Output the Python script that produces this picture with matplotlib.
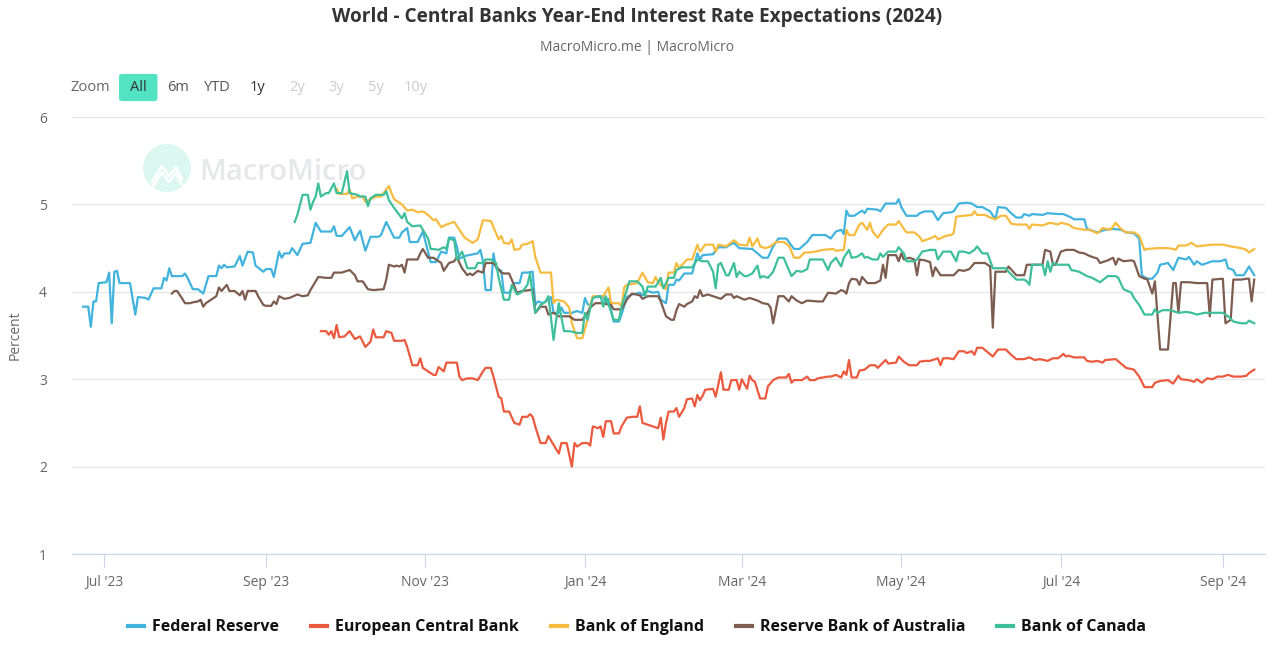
import pandas as pd
import numpy as np
import matplotlib.pyplot as plt
import matplotlib.dates as mdates
from matplotlib.patches import Ellipse, FancyBboxPatch
from matplotlib.lines import Line2D

# x values are days since 2023-07-01, y values in percent
base = pd.Timestamp('2023-07-01')

fed_day = [-8, -6, -5, -4, -3, -2, 1, 2, 3, 4, 5, 6, 9, 10, 12, 13, 16, 17, 19, 22, 23, 24, 25, 26, 30, 31,
           32, 34, 36, 38, 40, 43, 44, 45, 46, 47, 50, 52, 53, 55, 57, 58, 61, 62, 64, 65, 67, 68, 69, 71, 72,
           74, 76, 79, 81, 83, 87, 88, 89, 91, 94, 96, 98, 100, 102, 105, 106, 108, 111, 113, 114, 116, 117,
           120, 122, 125, 127, 129, 131, 132, 134, 135, 136, 138, 143, 144, 145, 146, 148, 149, 150, 152, 153,
           155, 157, 159, 160, 162, 164, 165, 166, 168, 169, 171, 172, 174, 175, 176, 178, 179, 181, 183, 184,
           185, 186, 187, 191, 192, 193, 195, 197, 198, 199, 200, 202, 205, 206, 207, 208, 210, 212, 213, 215,
           216, 218, 219, 220, 222, 225, 227, 228, 229, 233, 235, 238, 239, 241, 243, 248, 252, 254, 256, 258,
           261, 264, 266, 269, 271, 276, 278, 280, 282, 283, 284, 285, 287, 290, 291, 292, 296, 297, 299, 303,
           304, 305, 307, 311, 312, 314, 317, 319, 321, 324, 325, 327, 330, 332, 334, 336, 339, 341, 342, 345,
           347, 349, 351, 352, 354, 355, 359, 361, 365, 367, 370, 371, 375, 376, 380, 383, 386, 389, 391, 394,
           396, 397, 399, 401, 403, 404, 407, 409, 411, 414, 415, 417, 418, 420, 422, 424, 427, 429, 430, 432,
           433, 436, 438, 440]
fed_val = [3.83, 3.83, 3.60, 3.89, 3.89, 4.10, 4.11, 4.22, 3.64, 4.23, 4.24, 4.10, 4.10, 4.10, 3.74, 3.94,
           3.93, 3.91, 4.04, 4.04, 4.16, 4.13, 4.27, 4.18, 4.18, 4.21, 4.16, 4.03, 4.03, 3.98, 4.18, 4.18, 4.30,
           4.27, 4.31, 4.28, 4.29, 4.41, 4.30, 4.46, 4.45, 4.30, 4.23, 4.26, 4.26, 4.17, 4.46, 4.39, 4.44, 4.44,
           4.50, 4.42, 4.55, 4.56, 4.79, 4.69, 4.69, 4.75, 4.64, 4.64, 4.74, 4.59, 4.70, 4.47, 4.63, 4.63, 4.65,
           4.80, 4.62, 4.62, 4.68, 4.73, 4.57, 4.57, 4.69, 4.34, 4.34, 4.46, 4.44, 4.62, 4.62, 4.52, 4.38, 4.41,
           4.44, 4.48, 4.35, 4.02, 4.02, 4.44, 4.27, 4.24, 3.99, 3.99, 4.10, 4.10, 4.22, 4.22, 4.23, 3.85, 3.89,
           3.87, 3.89, 3.94, 3.76, 3.76, 3.82, 3.76, 3.76, 3.76, 3.78, 3.76, 3.93, 3.86, 3.84, 3.94, 3.94, 3.88,
           3.92, 3.66, 3.66, 3.74, 3.84, 3.94, 3.97, 3.99, 3.96, 3.99, 4.01, 3.99, 4.00, 3.91, 3.87, 4.08, 4.08,
           4.14, 4.13, 4.21, 4.21, 4.44, 4.37, 4.42, 4.43, 4.51, 4.51, 4.53, 4.56, 4.50, 4.49, 4.39, 4.39, 4.52,
           4.61, 4.61, 4.49, 4.49, 4.57, 4.65, 4.65, 4.61, 4.69, 4.71, 4.66, 4.93, 4.87, 4.87, 4.93, 4.90, 4.95,
           4.94, 4.92, 5.01, 5.01, 5.06, 4.97, 4.87, 4.87, 4.90, 4.92, 4.92, 4.82, 4.90, 4.91, 4.92, 5.01, 5.02,
           5.01, 4.97, 4.97, 4.92, 4.83, 4.97, 4.96, 4.90, 4.85, 4.85, 4.89, 4.87, 4.89, 4.88, 4.90, 4.89, 4.89,
           4.85, 4.83, 4.83, 4.72, 4.68, 4.71, 4.72, 4.71, 4.68, 4.67, 4.61, 4.19, 4.15, 4.15, 4.22, 4.31, 4.33,
           4.25, 4.39, 4.37, 4.40, 4.31, 4.35, 4.31, 4.33, 4.35, 4.35, 4.37, 4.27, 4.25, 4.19, 4.19, 4.29, 4.19]

ecb_day = [83, 85, 86, 87, 88, 89, 90, 92, 94, 96, 98, 100, 102, 103, 104, 107, 108, 110, 111, 114, 115, 116,
           118, 120, 121, 122, 124, 126, 127, 128, 130, 131, 135, 136, 137, 139, 141, 143, 145, 146, 148, 149,
           151, 152, 153, 155, 157, 159, 160, 162, 163, 164, 165, 167, 169, 170, 172, 174, 175, 177, 179, 180,
           181, 183, 185, 186, 187, 189, 190, 191, 192, 194, 195, 197, 198, 200, 202, 204, 205, 206, 208, 210,
           212, 213, 214, 215, 216, 218, 219, 220, 222, 223, 225, 226, 227, 228, 229, 230, 233, 234, 236, 237,
           239, 240, 242, 243, 244, 246, 247, 248, 249, 251, 253, 254, 256, 258, 261, 262, 263, 264, 267, 269,
           270, 272, 273, 277, 278, 280, 282, 283, 284, 285, 286, 288, 289, 291, 293, 295, 296, 299, 300, 303,
           304, 306, 308, 311, 312, 314, 316, 319, 320, 321, 323, 325, 327, 329, 330, 332, 333, 334, 336, 338,
           340, 342, 345, 347, 349, 352, 354, 356, 358, 361, 363, 365, 367, 368, 369, 371, 375, 376, 378, 380,
           382, 383, 387, 389, 391, 394, 396, 398, 401, 402, 404, 407, 409, 411, 412, 415, 417, 418, 420, 422,
           424, 426, 428, 430, 432, 435, 437, 438, 440]
ecb_val = [3.55, 3.55, 3.51, 3.55, 3.47, 3.62, 3.48, 3.49, 3.55, 3.46, 3.49, 3.37, 3.43, 3.57, 3.48, 3.48,
           3.55, 3.53, 3.44, 3.44, 3.45, 3.37, 3.16, 3.16, 3.24, 3.13, 3.09, 3.05, 3.05, 3.14, 3.09, 3.19, 3.19,
           3.03, 2.99, 3.01, 3.01, 2.99, 3.09, 3.13, 3.13, 3.03, 2.80, 2.78, 2.63, 2.63, 2.50, 2.48, 2.57, 2.57,
           2.60, 2.57, 2.46, 2.27, 2.27, 2.35, 2.25, 2.15, 2.27, 2.27, 2.00, 2.27, 2.23, 2.27, 2.27, 2.24, 2.46,
           2.44, 2.46, 2.34, 2.52, 2.52, 2.38, 2.38, 2.46, 2.56, 2.57, 2.57, 2.69, 2.50, 2.48, 2.46, 2.44, 2.56,
           2.31, 2.50, 2.63, 2.63, 2.67, 2.57, 2.67, 2.77, 2.78, 2.69, 2.82, 2.76, 2.81, 2.88, 2.89, 2.80, 3.08,
           2.88, 2.88, 2.99, 2.99, 2.88, 3.00, 2.89, 3.04, 2.99, 2.97, 2.78, 2.78, 2.92, 2.99, 3.02, 3.02, 3.06,
           2.96, 2.99, 2.99, 3.03, 2.99, 2.99, 3.01, 3.03, 3.03, 3.05, 3.02, 3.09, 3.05, 3.22, 3.02, 3.02, 3.10,
           3.11, 3.16, 3.16, 3.13, 3.22, 3.18, 3.19, 3.26, 3.20, 3.16, 3.16, 3.20, 3.21, 3.21, 3.24, 3.16, 3.24,
           3.24, 3.23, 3.32, 3.32, 3.30, 3.32, 3.28, 3.36, 3.36, 3.31, 3.26, 3.34, 3.34, 3.28, 3.23, 3.23, 3.25,
           3.22, 3.23, 3.21, 3.24, 3.24, 3.29, 3.26, 3.27, 3.25, 3.25, 3.21, 3.20, 3.21, 3.19, 3.22, 3.23, 3.18,
           3.13, 3.11, 3.03, 2.91, 2.91, 2.96, 2.98, 2.99, 2.95, 3.04, 3.00, 2.99, 2.97, 3.00, 2.96, 3.01, 3.00,
           3.03, 3.03, 3.05, 3.03, 3.03, 3.04, 3.07, 3.11]

boe_day = [89, 90, 93, 94, 95, 97, 99, 100, 102, 104, 106, 107, 109, 110, 111, 114, 116, 118, 120, 122, 124,
           126, 127, 129, 131, 134, 136, 138, 141, 143, 145, 148, 150, 151, 152, 153, 155, 156, 157, 159, 160,
           162, 164, 165, 167, 171, 172, 173, 176, 178, 179, 181, 183, 185, 186, 187, 191, 193, 194, 197, 198,
           199, 200, 204, 206, 208, 210, 211, 212, 213, 215, 216, 218, 219, 220, 223, 225, 227, 228, 230, 233,
           234, 235, 238, 241, 243, 246, 247, 248, 250, 251, 253, 255, 257, 260, 262, 264, 266, 268, 270, 272,
           275, 279, 280, 283, 284, 285, 287, 289, 290, 292, 293, 294, 296, 298, 300, 303, 304, 306, 307, 310,
           312, 313, 316, 318, 319, 322, 324, 325, 326, 329, 332, 333, 334, 337, 339, 341, 343, 345, 347, 349,
           352, 353, 354, 355, 359, 362, 365, 366, 369, 371, 375, 377, 380, 382, 385, 387, 389, 391, 394, 396,
           398, 399, 403, 407, 409, 410, 411, 414, 416, 418, 421, 424, 428, 431, 435, 437, 438, 440]
boe_val = [5.18, 5.12, 5.12, 5.17, 5.07, 5.09, 5.09, 5.03, 5.06, 5.09, 5.09, 5.13, 5.21, 5.13, 5.06, 5.00,
           4.93, 4.94, 4.91, 4.92, 4.88, 4.82, 4.83, 4.74, 4.77, 4.80, 4.71, 4.62, 4.56, 4.60, 4.82, 4.81, 4.67,
           4.60, 4.64, 4.56, 4.55, 4.60, 4.48, 4.49, 4.54, 4.55, 4.58, 4.40, 4.22, 4.22, 3.87, 3.91, 3.89, 3.82,
           3.64, 3.47, 3.47, 3.68, 3.85, 3.95, 3.95, 4.05, 3.87, 3.87, 3.83, 4.05, 4.08, 4.10, 4.22, 4.11, 4.10,
           4.17, 4.11, 4.08, 4.03, 4.22, 4.22, 4.33, 4.27, 4.37, 4.37, 4.54, 4.46, 4.54, 4.54, 4.46, 4.54, 4.52,
           4.59, 4.54, 4.53, 4.62, 4.52, 4.61, 4.52, 4.50, 4.52, 4.57, 4.57, 4.53, 4.39, 4.39, 4.45, 4.45, 4.46,
           4.48, 4.49, 4.47, 4.48, 4.71, 4.65, 4.65, 4.77, 4.79, 4.71, 4.79, 4.69, 4.62, 4.71, 4.77, 4.77, 4.81,
           4.72, 4.68, 4.68, 4.63, 4.58, 4.61, 4.64, 4.60, 4.64, 4.65, 4.67, 4.86, 4.87, 4.88, 4.92, 4.88, 4.88,
           4.85, 4.83, 4.87, 4.87, 4.78, 4.77, 4.77, 4.77, 4.72, 4.77, 4.76, 4.79, 4.77, 4.79, 4.77, 4.73, 4.71,
           4.71, 4.67, 4.73, 4.71, 4.79, 4.72, 4.68, 4.68, 4.64, 4.48, 4.49, 4.50, 4.50, 4.49, 4.48, 4.53, 4.53,
           4.56, 4.52, 4.53, 4.54, 4.54, 4.52, 4.50, 4.48, 4.45, 4.49]

rba_day = [26, 27, 28, 30, 31, 33, 34, 36, 37, 38, 39, 41, 42, 43, 44, 45, 47, 48, 50, 52, 53, 54, 55, 58, 59,
           61, 62, 64, 65, 66, 67, 69, 71, 74, 76, 78, 79, 82, 85, 87, 88, 91, 94, 96, 97, 99, 101, 103, 107,
           108, 109, 111, 112, 113, 114, 115, 116, 118, 120, 121, 122, 124, 126, 129, 130, 132, 134, 135, 136,
           137, 139, 140, 141, 143, 145, 146, 148, 149, 152, 153, 155, 156, 158, 160, 163, 164, 165, 167, 169,
           170, 172, 174, 178, 180, 183, 185, 186, 188, 190, 192, 194, 195, 198, 200, 202, 205, 206, 208, 210,
           212, 213, 215, 217, 218, 219, 220, 222, 223, 225, 226, 227, 228, 229, 231, 233, 236, 238, 240, 241,
           242, 245, 247, 250, 252, 254, 255, 256, 258, 260, 262, 263, 265, 267, 269, 273, 275, 277, 280, 282,
           283, 284, 285, 286, 288, 289, 290, 292, 295, 297, 298, 299, 300, 303, 304, 305, 306, 308, 310, 311,
           312, 314, 316, 317, 318, 320, 325, 327, 329, 331, 333, 337, 339, 340, 341, 345, 346, 349, 352, 353,
           359, 360, 362, 363, 364, 366, 368, 371, 373, 375, 377, 380, 381, 384, 386, 387, 388, 390, 393, 394,
           396, 398, 399, 401, 402, 404, 407, 409, 410, 411, 412, 415, 418, 422, 423, 424, 428, 429, 431, 432,
           435, 437, 438, 439, 440]
rba_val = [3.98, 4.01, 4.01, 3.92, 3.87, 3.87, 3.88, 3.89, 3.91, 3.83, 3.87, 3.91, 3.93, 3.95, 4.05, 4.01,
           4.08, 4.01, 4.01, 3.96, 4.01, 3.91, 4.01, 4.01, 3.95, 3.85, 3.84, 3.84, 3.89, 3.86, 3.95, 3.92, 3.93,
           3.97, 3.95, 3.96, 4.02, 4.17, 4.16, 4.16, 4.22, 4.22, 4.25, 4.19, 4.12, 4.12, 4.03, 4.02, 4.03, 4.14,
           4.31, 4.29, 4.30, 4.29, 4.31, 4.22, 4.37, 4.37, 4.37, 4.44, 4.49, 4.39, 4.39, 4.33, 4.24, 4.33, 4.35,
           4.40, 4.33, 4.27, 4.19, 4.21, 4.19, 4.24, 4.22, 4.33, 4.33, 4.33, 4.22, 4.21, 4.21, 4.14, 3.99, 4.01,
           4.02, 4.03, 3.76, 3.83, 3.83, 3.74, 3.76, 3.72, 3.72, 3.68, 3.68, 3.76, 3.82, 3.87, 3.87, 3.86, 3.85,
           3.80, 3.80, 3.91, 3.98, 3.96, 3.92, 3.95, 3.95, 3.95, 3.89, 3.72, 3.68, 3.68, 3.79, 3.86, 3.83, 3.86,
           3.89, 3.95, 3.93, 4.02, 3.95, 3.97, 3.95, 3.92, 3.97, 3.97, 3.93, 3.95, 3.91, 3.93, 3.90, 3.87, 3.86,
           3.82, 3.64, 3.95, 3.95, 3.89, 3.95, 3.90, 3.87, 3.90, 3.89, 3.89, 3.99, 3.98, 4.02, 4.01, 3.98, 4.10,
           4.15, 4.14, 4.08, 4.17, 4.10, 4.10, 4.13, 4.31, 4.16, 4.42, 4.42, 4.35, 4.44, 4.37, 4.39, 4.37, 4.19,
           4.37, 4.36, 4.34, 4.18, 4.28, 4.19, 4.19, 4.25, 4.24, 4.26, 4.33, 4.33, 4.29, 3.59, 4.23, 4.23, 4.29,
           4.19, 4.19, 4.31, 4.31, 4.48, 4.46, 4.31, 4.31, 4.46, 4.48, 4.48, 4.45, 4.44, 4.41, 4.38, 4.33, 4.36,
           4.39, 4.31, 4.38, 4.35, 4.36, 4.35, 4.18, 4.15, 4.15, 3.98, 4.12, 3.34, 3.34, 4.10, 4.10, 3.76, 4.11,
           4.11, 4.10, 4.10, 3.72, 4.14, 4.15, 3.64, 3.68, 4.14, 4.14, 4.15, 4.15, 3.89, 4.14]

boc_day = [73, 74, 76, 78, 79, 80, 81, 82, 83, 85, 86, 88, 89, 91, 93, 94, 97, 98, 100, 101, 102, 104, 107,
           108, 109, 111, 112, 114, 115, 116, 118, 121, 122, 124, 125, 126, 128, 130, 131, 132, 134, 135, 137,
           138, 139, 142, 143, 145, 146, 148, 150, 151, 153, 155, 156, 158, 160, 162, 163, 164, 165, 167, 169,
           170, 172, 173, 174, 176, 178, 181, 183, 184, 185, 187, 189, 190, 191, 192, 195, 197, 198, 200, 201,
           204, 206, 207, 208, 211, 213, 214, 216, 218, 219, 221, 225, 227, 229, 231, 233, 234, 235, 236, 238,
           239, 240, 241, 242, 243, 245, 246, 248, 250, 251, 252, 254, 256, 258, 260, 262, 263, 265, 267, 269,
           270, 272, 275, 277, 278, 280, 282, 283, 285, 286, 288, 290, 291, 292, 294, 296, 297, 298, 300, 303,
           304, 306, 307, 310, 311, 313, 316, 318, 319, 321, 324, 326, 327, 329, 331, 333, 334, 336, 338, 340,
           343, 345, 346, 349, 352, 353, 354, 355, 359, 360, 361, 362, 363, 365, 369, 370, 373, 376, 378, 381,
           384, 387, 388, 390, 393, 394, 396, 398, 401, 402, 403, 405, 408, 411, 414, 416, 418, 421, 424, 428,
           430, 432, 435, 437, 438, 440]
boc_val = [4.80, 4.88, 5.11, 5.11, 4.94, 5.03, 5.09, 5.24, 5.09, 5.13, 5.13, 5.24, 5.13, 5.13, 5.38, 5.13,
           5.11, 5.09, 5.09, 4.98, 5.07, 5.11, 5.11, 5.15, 5.05, 4.96, 4.92, 4.84, 4.90, 4.80, 4.75, 4.76, 4.71,
           4.61, 4.49, 4.49, 4.48, 4.51, 4.49, 4.61, 4.59, 4.37, 4.46, 4.37, 4.27, 4.27, 4.33, 4.33, 4.37, 4.37,
           4.33, 4.16, 3.91, 3.91, 4.08, 3.97, 4.00, 4.08, 4.21, 3.95, 3.76, 3.85, 3.89, 3.95, 3.45, 3.68, 3.87,
           3.55, 3.55, 3.53, 3.53, 3.76, 3.68, 3.93, 3.95, 3.95, 3.83, 3.95, 3.68, 3.68, 3.83, 4.02, 4.12, 4.12,
           4.06, 3.95, 4.06, 4.06, 4.16, 4.04, 4.16, 4.16, 4.25, 4.28, 4.28, 4.37, 4.35, 4.35, 4.23, 4.04, 4.31,
           4.33, 4.19, 4.19, 4.26, 4.33, 4.17, 4.23, 4.18, 4.18, 4.21, 4.30, 4.16, 4.18, 4.16, 4.23, 4.39, 4.39,
           4.25, 4.18, 4.24, 4.23, 4.26, 4.37, 4.37, 4.37, 4.25, 4.33, 4.39, 4.29, 4.39, 4.48, 4.39, 4.40, 4.44,
           4.39, 4.40, 4.37, 4.37, 4.44, 4.40, 4.46, 4.46, 4.51, 4.44, 4.35, 4.35, 4.37, 4.46, 4.48, 4.48, 4.37,
           4.46, 4.46, 4.35, 4.46, 4.46, 4.44, 4.48, 4.52, 4.44, 4.44, 4.27, 4.27, 4.27, 4.23, 4.14, 4.14, 4.12,
           4.08, 4.31, 4.31, 4.19, 4.35, 4.23, 4.33, 4.31, 4.31, 4.25, 4.23, 4.18, 4.16, 4.11, 4.18, 4.18, 4.16,
           4.03, 3.99, 3.93, 3.85, 3.74, 3.74, 3.80, 3.76, 3.79, 3.79, 3.76, 3.77, 3.76, 3.74, 3.76, 3.76, 3.76,
           3.72, 3.66, 3.64, 3.64, 3.67, 3.64]

series = [
    ('Federal Reserve', fed_day, fed_val, '#41b3dd'),
    ('European Central Bank', ecb_day, ecb_val, '#eb5a3f'),
    ('Bank of England', boe_day, boe_val, '#f6bb3f'),
    ('Reserve Bank of Australia', rba_day, rba_val, '#7c5d50'),
    ('Bank of Canada', boc_day, boc_val, '#3dbf9a'),
]

plt.rcParams['font.family'] = ['Open Sans', 'DejaVu Sans']

W, H = 1280, 648
fig = plt.figure(figsize=(12.8, 6.48), dpi=100)
ax = fig.add_axes([0.05625, 0.145, 0.932, 0.6744])

for name, days, vals, color in series:
    dates = base + pd.to_timedelta(days, unit='D')
    ax.plot(dates, vals, color=color, linewidth=1.6, label=name, solid_joinstyle='round')

ax.set_ylim(1, 6)
ax.set_yticks([1, 2, 3, 4, 5, 6])
ax.set_xlim(base + pd.Timedelta(days=-12.2), base + pd.Timedelta(days=444.1))
ax.xaxis.set_major_locator(mdates.MonthLocator(bymonth=[1, 3, 5, 7, 9, 11]))
ax.xaxis.set_major_formatter(mdates.DateFormatter("%b '%y"))

ax.grid(axis='y', color='#e6e6e6', linewidth=1)
ax.set_axisbelow(True)
for side in ['top', 'right', 'left']:
    ax.spines[side].set_visible(False)
ax.spines['bottom'].set_color('#ccd6eb')
ax.tick_params(axis='y', length=0, labelsize=10, labelcolor='#666666', pad=18)
ax.tick_params(axis='x', length=9, color='#ccd6eb', labelsize=10, labelcolor='#666666', pad=6)
ax.set_ylabel('Percent', fontsize=10, color='#666666', labelpad=12)

fig.text(0.498, 0.973, 'World - Central Banks Year-End Interest Rate Expectations (2024)',
         ha='center', va='center', fontsize=13.7, fontweight='bold', color='#333333')
fig.text(0.498, 0.927, 'MacroMicro.me | MacroMicro', ha='center', va='center', fontsize=10, color='#666666')

# range selector buttons
fig.text(0.055, 0.865, 'Zoom', ha='left', va='center', fontsize=10.5, color='#666666')
fig.patches.append(FancyBboxPatch((0.093, 0.844), 0.030, 0.042, boxstyle='round,pad=0,rounding_size=0.003',
                                  transform=fig.transFigure, facecolor='#52e3c2', edgecolor='none'))
fig.text(0.108, 0.865, 'All', ha='center', va='center', fontsize=10.5, color='#333333')
btn_labels = ['6m', 'YTD', '1y', '2y', '3y', '5y', '10y']
btn_colors = ['#555555', '#555555', '#333333', '#cccccc', '#cccccc', '#cccccc', '#cccccc']
btn_x = [0.139, 0.170, 0.201, 0.232, 0.263, 0.294, 0.325]
for lab, col, x in zip(btn_labels, btn_colors, btn_x):
    fig.text(x, 0.865, lab, ha='center', va='center', fontsize=10.5, color=col)

# watermark logo
cx, cy, r = 167, 168, 24
fig.patches.append(Ellipse((cx / W, 1 - cy / H), 2 * r / W, 2 * r / H, transform=fig.transFigure,
                           facecolor='#dcf7ef', edgecolor='none', zorder=0))
icon_x = [152, 162, 169, 176, 182]
icon_y = [182, 166, 176, 167, 179]
fig.lines.append(Line2D([x / W for x in icon_x], [1 - y / H for y in icon_y], transform=fig.transFigure,
                        color='white', linewidth=1.8, zorder=1))
fig.lines.append(Line2D([x / W for x in icon_x], [1 - (y + 6) / H for y in icon_y], transform=fig.transFigure,
                        color='white', linewidth=1.8, zorder=1))
fig.text(0.156, 1 - 172 / H, 'MacroMicro', ha='left', va='center', fontsize=21, fontweight='semibold',
         color='#e6e7e9', zorder=0)

leg = fig.legend(loc='center', bbox_to_anchor=(0.498, 0.032), ncol=5, frameon=False, fontsize=11.5,
                 handlelength=1.0, handletextpad=0.5, columnspacing=2.0)
for t in leg.get_texts():
    t.set_fontweight('bold')
    t.set_color('#111111')
for line in leg.get_lines():
    line.set_linewidth(3)

fig.savefig('out.png', dpi=100)
